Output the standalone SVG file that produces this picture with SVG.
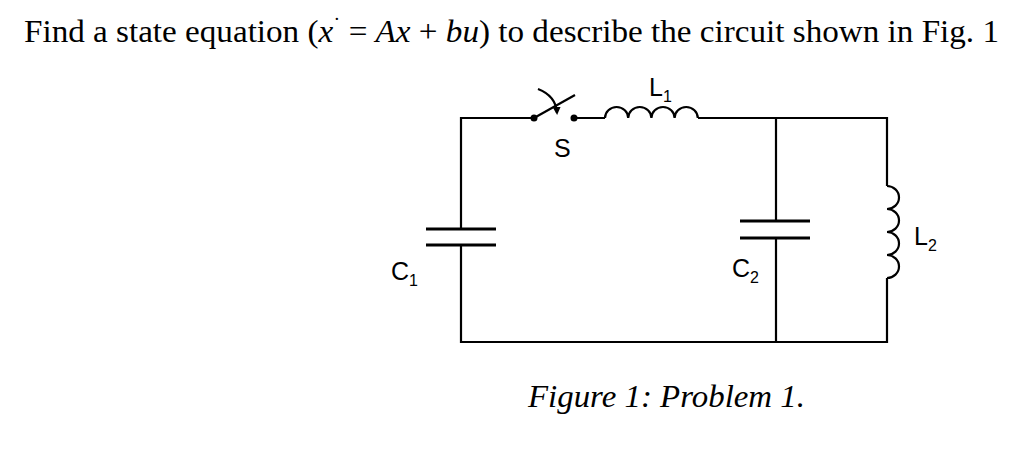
<svg xmlns="http://www.w3.org/2000/svg" width="1024" height="476" viewBox="0 0 1024 476">
<style>
.w{fill:none;stroke:#000;stroke-width:2.2}
.p{fill:none;stroke:#000;stroke-width:3}
.s{font-family:"Liberation Sans",Arial,sans-serif;font-size:25px}
.sub{font-size:16px}
.t{font-family:"Liberation Serif","Times New Roman",serif;font-size:31px}
</style>
<defs><marker id="ah" markerWidth="8" markerHeight="8" refX="6" refY="4" orient="auto" markerUnits="userSpaceOnUse"><path d="M0,0 L8,4 L0,8 Z"/></marker></defs>
<rect width="1024" height="476" fill="#fff"/>
<text class="t" x="24" y="42" textLength="975" lengthAdjust="spacingAndGlyphs">Find a state equation (<tspan font-style="italic">x</tspan><tspan dy="-10" font-size="20">˙</tspan><tspan dy="10"> = </tspan><tspan font-style="italic">Ax</tspan> + <tspan font-style="italic">bu</tspan>) to describe the circuit shown in Fig. 1</text>
<g id="connectors">
<path class="w" d="M534,118 H461 V229 M461,245 V342 H887 V278 M887,186 V118 H698 M574,118 H605 M776,118 V221 M776,238 V342"/>
</g>
<g id="C1"><path class="p" d="M426,229 H496 M426,245 H496"/><text class="s" x="391" y="280">C<tspan class="sub" dy="6">1</tspan></text></g>
<g id="C2"><path class="p" d="M740,221 H810 M740,238 H810"/><text class="s" x="732" y="277">C<tspan class="sub" dy="6">2</tspan></text></g>
<g id="S">
<circle cx="534" cy="118" r="3.5"/><circle cx="574" cy="118" r="3.5"/>
<path class="w" d="M534,118 L575,95"/>
<path class="w" d="M538,89 Q556,96 557,113" marker-end="url(#ah)"/>
<text class="s" x="554" y="157">S</text>
</g>
<g id="L1"><path class="w" d="M605,118 a11.6,11 0 0 1 23.2,0 a11.6,11 0 0 1 23.2,0 a11.6,11 0 0 1 23.2,0 a11.6,11 0 0 1 23.2,0"/><text class="s" x="649" y="96">L<tspan class="sub" dy="6">1</tspan></text></g>
<g id="L2"><path class="w" d="M887,186 a12,11.5 0 0 1 0,23 a12,11.5 0 0 1 0,23 a12,11.5 0 0 1 0,23 a12,11.5 0 0 1 0,23"/><text class="s" x="914" y="245">L<tspan class="sub" dy="6">2</tspan></text></g>
<text class="t" x="528" y="407" style="font-style:italic;font-size:32px" textLength="277" lengthAdjust="spacingAndGlyphs">Figure 1: Problem 1.</text>
</svg>
